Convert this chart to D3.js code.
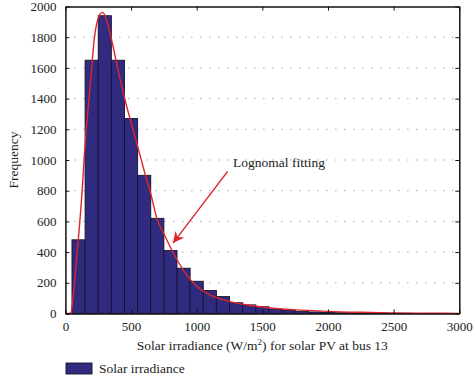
<!DOCTYPE html>
<html><head><meta charset="utf-8">
<script src="https://cdn.jsdelivr.net/npm/d3@7"></script>
<style>body{margin:0;background:#fff}svg{display:block}text{font-family:"Liberation Serif","Times New Roman",serif;fill:#222}</style>
</head><body><div id="chart"></div>
<script>
// Histogram bins (centre of each 100 W/m² bin) and frequencies
const binCenters = [100,200,300,400,500,600,700,800,900,1000,1100,1200,1300,1400,1500,1600,1700,1800,1900,2000,2100,2200,2300,2400,2500,2600];
const frequencies = [480,1650,1940,1650,1270,900,620,410,295,210,150,110,70,56,44,30,20,14,10,7,5,4,3,2,1,1];
const binWidth = 100;
// Lognormal fitting curve
const curveX = [0,30,45,56,70,85,100,117,130,142,160,180,200,220,240,260,281,300,320,350,400,454,500,550,600,650,700,750,800,850,900,950,1000,1100,1200,1300,1400,1500,1600,1800,2000,2250,2500,2750,3000];
const curveY = [0,0,10,88,210,360,500,674,830,1000,1210,1400,1600,1790,1895,1945,1962,1945,1890,1790,1590,1391,1246,1088,930,780,610,520,430,350,280,222,178,122,90,68,54,42,33,22,14,8,4,2,1];
const xTicks = [0,500,1000,1500,2000,2500,3000];
const yTicks = [0,200,400,600,800,1000,1200,1400,1600,1800,2000];
const annotation = {text:"Lognomal fitting", tipX:820, tipY:459, fromX:1235, fromY:925, labelX:1277, labelY:955};

const W=474,H=392, m={l:65.4,r:14.7,t:6.5,b:78.5};
const svg=d3.select("#chart").append("svg").attr("width",W).attr("height",H);
const x=d3.scaleLinear().domain([0,3000]).range([m.l,W-m.r]);
const y=d3.scaleLinear().domain([0,2000]).range([H-m.b,m.t]);
const navy="#302b7e", red="#e0242b";
const ff='"Liberation Serif","Times New Roman",serif';

// dotted grid
svg.append("g").selectAll("line").data(yTicks.filter(d=>d>0&&d<2000)).join("line")
  .attr("x1",x(0)).attr("x2",x(3000)).attr("y1",d=>y(d)).attr("y2",d=>y(d))
  .attr("stroke","#7a7a7a").attr("stroke-width",1).attr("stroke-dasharray","1,8");

// bars
svg.append("g").selectAll("rect").data(binCenters.map((c,i)=>({c,f:frequencies[i]}))).join("rect")
  .attr("x",d=>x(d.c-binWidth/2)).attr("width",d=>x(d.c+binWidth/2)-x(d.c-binWidth/2))
  .attr("y",d=>y(d.f)).attr("height",d=>y(0)-y(d.f))
  .attr("fill",navy).attr("stroke","#15132e").attr("stroke-width",0.9);

// fitted curve
const pts=curveX.map((v,i)=>[v,curveY[i]]);
svg.append("path").datum(pts).attr("fill","none").attr("stroke",red).attr("stroke-width",1.4)
  .attr("d",d3.line().x(d=>x(d[0])).y(d=>y(d[1])).curve(d3.curveMonotoneX));

// axes (box with inward ticks)
const fs=13;
const fmt=d3.format("d");
const gl=svg.append("g").attr("transform",`translate(${m.l},0)`)
  .call(d3.axisLeft(y).tickValues(yTicks).tickFormat(fmt).tickSizeInner(-4).tickSizeOuter(0).tickPadding(9));
const gb=svg.append("g").attr("transform",`translate(0,${H-m.b})`)
  .call(d3.axisBottom(x).tickValues(xTicks).tickFormat(fmt).tickSizeInner(-4).tickSizeOuter(0).tickPadding(8));
const gt=svg.append("g").attr("transform",`translate(0,${m.t})`)
  .call(d3.axisTop(x).tickValues(xTicks).tickSizeInner(-4).tickSizeOuter(0).tickFormat(""));
const gr=svg.append("g").attr("transform",`translate(${W-m.r},0)`)
  .call(d3.axisRight(y).tickValues(yTicks).tickSizeInner(-4).tickSizeOuter(0).tickFormat(""));
[gl,gb,gt,gr].forEach(g=>{
  g.attr("font-family",ff);
  g.select(".domain").attr("stroke","#111").attr("stroke-width",1.5);
  g.selectAll(".tick line").attr("stroke","#111").attr("stroke-width",1);
  g.selectAll("text").attr("font-family",ff).attr("font-size",fs).attr("fill","#222");
});

// axis titles
svg.append("text").attr("x",(x(0)+x(3000))/2).attr("y",350).attr("text-anchor","middle").attr("font-size",13.5)
  .html('Solar irradiance (W/m<tspan dy="-5" font-size="9">2</tspan><tspan dy="5">) for solar PV at bus 13</tspan>');
svg.append("text").attr("transform",`translate(18,${(y(0)+y(2000))/2}) rotate(-90)`).attr("text-anchor","middle")
  .attr("font-size",13.5).text("Frequency");

// annotation arrow
const defs=svg.append("defs");
defs.append("marker").attr("id","ah").attr("viewBox","0 0 10 10").attr("refX",10).attr("refY",5)
  .attr("markerWidth",11).attr("markerHeight",11).attr("markerUnits","userSpaceOnUse").attr("orient","auto")
  .append("path").attr("d","M0,0 L10,5 L0,10 L3,5 Z").attr("fill",red);
svg.append("line").attr("x1",x(annotation.fromX)).attr("y1",y(annotation.fromY))
  .attr("x2",x(annotation.tipX)).attr("y2",y(annotation.tipY))
  .attr("stroke",red).attr("stroke-width",1.3).attr("marker-end","url(#ah)");
svg.append("text").attr("x",x(annotation.labelX)).attr("y",y(annotation.labelY)).attr("font-size",13.5).text(annotation.text);

// legend
svg.append("rect").attr("x",66).attr("y",363).attr("width",26).attr("height",11).attr("fill",navy).attr("stroke","#15132e").attr("stroke-width",0.9);
svg.append("text").attr("x",99).attr("y",373).attr("font-size",13.5).text("Solar irradiance");
</script></body></html>
